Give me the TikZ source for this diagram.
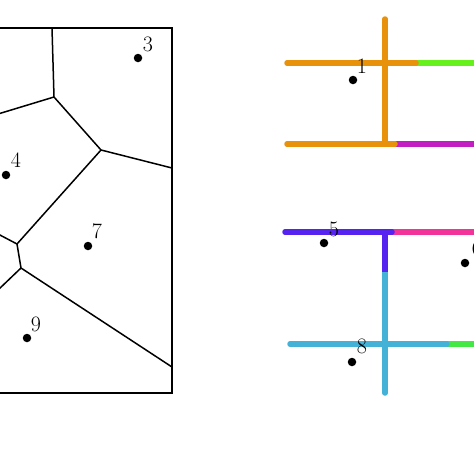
\documentclass[tikz,border=0pt]{standalone}
\begin{document}
\begin{tikzpicture}[x=1pt,y=-1pt,
  edge/.style={line width=1.5pt,black},
  site/.style={circle,fill=black,inner sep=0pt,minimum size=8.5pt},
  lab/.style={inner sep=0pt,font=\fontsize{22}{22}\selectfont},
  seg/.style={line width=5.5pt}]
\useasboundingbox (0,0) rectangle (474,474);
\clip (0,0) rectangle (474,474);
\definecolor{corange}{HTML}{E8920C}
\definecolor{cgreen}{HTML}{66F01C}
\definecolor{cmag}{HTML}{C21EC2}
\definecolor{cpurple}{HTML}{5522F0}
\definecolor{cpink}{HTML}{F2339A}
\definecolor{ccyan}{HTML}{44B2D6}
\definecolor{cgreenb}{HTML}{44E844}
% Voronoi panel
\draw[edge] (-5,28) rectangle (172,393);
\coordinate (va) at (54,97);
\coordinate (vb) at (101,150);
\coordinate (vc) at (17,244);
\coordinate (vd) at (21,268);
\coordinate (t1) at (52,28);
\coordinate (l1) at (-2,114);
\coordinate (r1) at (172,168);
\coordinate (l2) at (-2,234);
\coordinate (l3) at (-2,290);
\coordinate (r2) at (172,367);
\draw[edge] (t1) -- (va) -- (vb) -- (r1);
\draw[edge] (l1) -- (va);
\draw[edge] (vb) -- (vc) -- (vd) -- (r2);
\draw[edge] (l2) -- (vc);
\draw[edge] (l3) -- (vd);
\node[site] (p3) at (138,58) {};
\node[lab] (n3) at (148,44) {3};
\node[site] (p4) at (6,175) {};
\node[lab] (n4) at (16,160) {4};
\node[site] (p7) at (88,246) {};
\node[lab] (n7) at (97,231) {7};
\node[site] (p9) at (27,338) {};
\node[lab] (n9) at (36,324) {9};
% right panel
\coordinate (a1) at (287,63);
\coordinate (a2) at (416,63);
\coordinate (a3) at (480,63);
\coordinate (b1) at (385,19);
\coordinate (b2) at (385,144);
\coordinate (c1) at (287,144);
\coordinate (c2) at (395,144);
\coordinate (c3) at (480,144);
\draw[seg,cgreen] (a2) -- (a3);
\draw[seg,cmag] (c2) -- (c3);
\draw[seg,corange,line cap=round] (a1) -- (a2);
\draw[seg,corange,line cap=round] (b1) -- (b2);
\draw[seg,corange,line cap=round] (c1) -- (c2);
\coordinate (d1) at (285,232);
\coordinate (d2) at (392,232);
\coordinate (d3) at (480,232);
\coordinate (e1) at (385,232);
\coordinate (e2) at (385,272);
\coordinate (e3) at (385,393);
\coordinate (f1) at (290,344);
\coordinate (f2) at (447,344);
\coordinate (f3) at (480,344);
\draw[seg,cpink] (d2) -- (d3);
\draw[seg,cgreenb] (f2) -- (f3);
\draw[seg,ccyan,line cap=round] (e2) -- (e3);
\draw[seg,ccyan,line cap=round] (f1) -- (f2);
\draw[seg,cpurple,line cap=round] (d1) -- (d2);
\draw[seg,cpurple] (e1) -- (e2);
\node[site] (p1) at (353,80) {};
\node[lab] (n1) at (362,66) {1};
\node[site] (p5) at (324,243) {};
\node[lab] (n5) at (334,229) {5};
\node[site] (p6) at (465,263) {};
\node[lab] (n6) at (477,248) {6};
\node[site] (p8) at (352,362) {};
\node[lab] (n8) at (362,346) {8};
\end{tikzpicture}
\end{document}
